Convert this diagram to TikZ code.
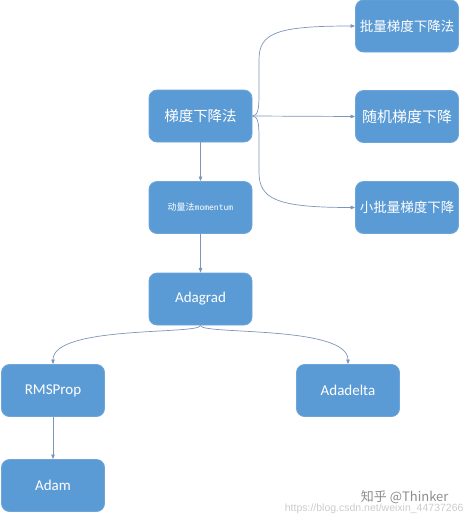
\documentclass[tikz,border=0pt]{standalone}
\usepackage{fontspec}
\setmainfont{Carlito}
\newfontfamily\cjk{Noto Sans CJK SC}
\newfontfamily\monof{DejaVu Sans Mono}
\newfontfamily\wmfont{Liberation Sans}
\usetikzlibrary{arrows.meta}
\definecolor{boxfill}{HTML}{5B9BD5}
\definecolor{boxborder}{HTML}{6FA6DA}
\definecolor{linecol}{HTML}{7C95B8}
\begin{document}
\begin{tikzpicture}[x=1pt,y=-1pt,
  box/.style={draw=boxborder, fill=boxfill, rounded corners=8pt, text=white,
    minimum width=103pt, minimum height=52pt, inner sep=0pt, line width=0.8pt},
  conn/.style={draw=linecol, line width=0.7pt, -{Triangle[length=4.5pt,width=3.5pt]}}]
\useasboundingbox (0,0) rectangle (474,523);
\node[box, font=\cjk\fontsize{14.5}{16}\selectfont] (gd) at (200.5,116) {梯度下降法};
\node[box, font=\cjk\fontsize{13.5}{16}\selectfont] (bgd) at (407,26) {批量梯度下降法};
\node[box, font=\cjk\fontsize{15}{16}\selectfont] (sgd) at (407,116.5) {随机梯度下降};
\node[box, font=\cjk\fontsize{13.5}{16}\selectfont] (mbgd) at (407,207.5) {小批量梯度下降};
\node[box] (mom) at (200.5,207.5) {{\cjk\fontsize{9}{11}\selectfont 动量法}{\monof\fontsize{8}{11}\selectfont momentum}};
\node[box, font=\fontsize{15}{18}\selectfont] (ada) at (200.5,299) {Adagrad};
\node[box, font=\fontsize{15}{18}\selectfont] (rms) at (53,390.5) {RMSProp};
\node[box, font=\fontsize{15}{18}\selectfont] (adelta) at (348,390.5) {Adadelta};
\node[box, font=\fontsize{15}{18}\selectfont] (adam) at (53,485.5) {Adam};
% connectors
\draw[conn] (gd.east) .. controls (258,116) and (259,108) .. (259,95) -- (259,60)
  .. controls (259,33) and (276,26) .. (bgd.west);
\draw[conn] (gd.east) -- (sgd.west);
\draw[conn] (gd.east) .. controls (258,116) and (259,124) .. (259,137) -- (259,172)
  .. controls (259,199) and (276,207.5) .. (mbgd.west);
\draw[conn] (gd.south) -- (mom.north);
\draw[conn] (mom.south) -- (ada.north);
\draw[conn] (ada.south) .. controls (200,335) and (53,325) .. (rms.north);
\draw[conn] (ada.south) .. controls (200,335) and (348,325) .. (adelta.north);
\draw[conn] (rms.south) -- (adam.north);
% watermark
\node[text=black!45, font=\cjk\fontsize{13}{15}\selectfont, anchor=east] (wm1) at (452,497) {知乎 @Thinker};
\node[text=black!20, font=\wmfont\fontsize{10.5}{12}\selectfont, anchor=east] (wm2) at (467,509) {https://blog.csdn.net/weixin\_44737266};
\end{tikzpicture}
\end{document}
